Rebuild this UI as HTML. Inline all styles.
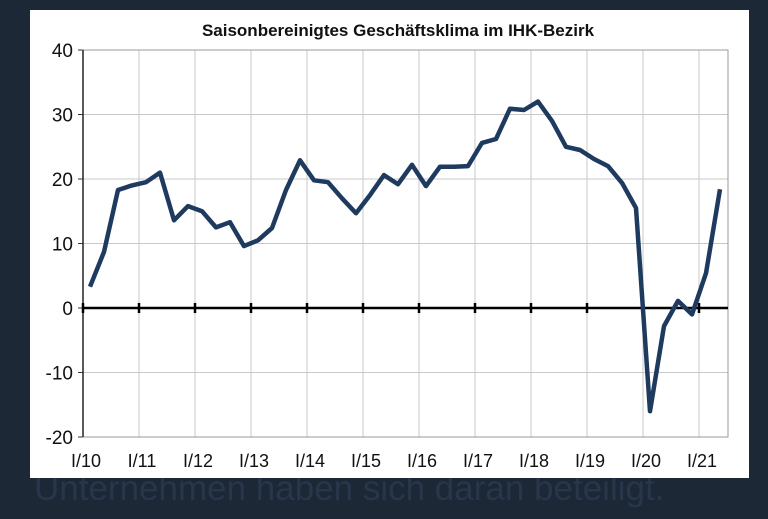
<!DOCTYPE html>
<html><head><meta charset="utf-8"><style>
html,body{margin:0;padding:0;background:#1c2836;width:768px;height:519px;overflow:hidden;font-family:"Liberation Sans",sans-serif}
#bgtext{position:absolute;left:34px;top:469px;font-size:35px;color:#27364a;white-space:nowrap}
#panel{position:absolute;left:30px;top:10px;width:719px;height:468px;background:#fff}
svg{position:absolute;left:0;top:0}
</style></head><body>
<div id="bgtext">Unternehmen haben sich daran beteiligt.</div>
<div id="panel"></div>
<svg id="chart" width="768" height="519"></svg>
<script>
const yearLabels=["I/10","I/11","I/12","I/13","I/14","I/15","I/16","I/17","I/18","I/19","I/20","I/21"];
const yTicks=[40,30,20,10,0,-10,-20];
const climateValues=[3.3,8.7,18.3,19,19.5,21,13.6,15.8,15,12.5,13.3,9.6,10.5,12.4,18.3,22.9,19.8,19.5,17,14.7,17.5,20.6,19.2,22.2,18.9,21.9,21.9,22,25.6,26.2,30.9,30.7,32,29,25,24.5,23.1,22,19.4,15.5,-16,-2.8,1.1,-1,5.4,18.4];
const NS="http://www.w3.org/2000/svg";
const svg=document.getElementById('chart');
const L=83,R=728,T=50,B=437,ymin=-20,ymax=40,yearW=56,qW=14;
const y=v=>B-(v-ymin)/(ymax-ymin)*(B-T);
const xYear=i=>L+i*yearW;
const xQ=i=>L+(i+0.5)*qW;
function mk(t,a){const e=document.createElementNS(NS,t);for(const k in a)e.setAttribute(k,a[k]);svg.appendChild(e);return e;}
const title=mk('text',{x:398,y:36,'text-anchor':'middle','font-size':'17','font-weight':'bold',fill:'#111'});
title.textContent='Saisonbereinigtes Geschäftsklima im IHK-Bezirk';


yTicks.forEach(v=>{
  const g=mk('line',{x1:L,x2:R,y1:y(v),y2:y(v),stroke:'#c8c8c8','stroke-width':1});
  
  
  const tk=mk('line',{x1:L-5,x2:L,y1:y(v),y2:y(v),stroke:'#333'});
  
  
  const t=mk('text',{x:L-10,y:y(v)+7,'text-anchor':'end','font-size':'19',fill:'#111'});
  t.textContent=v;
  
  
});
yearLabels.forEach((lab,i)=>{
  if(i>0){const g=mk('line',{x1:xYear(i),x2:xYear(i),y1:T,y2:B,stroke:'#c8c8c8','stroke-width':1});
  
  }
  const t=mk('text',{x:xYear(i)+3,y:467,'text-anchor':'middle','font-size':'18',fill:'#111'});
  t.textContent=lab;
  
  
});
const fr=mk('rect',{x:L,y:T,width:R-L,height:B-T,fill:'none',stroke:'#999'});


const ya=mk('line',{x1:L,x2:L,y1:T,y2:B,stroke:'#222','stroke-width':1.5});


const z=mk('line',{x1:L,x2:R,y1:y(0),y2:y(0),stroke:'#000','stroke-width':2.5});


yearLabels.forEach((lab,i)=>{
  const tk=mk('line',{x1:xYear(i),x2:xYear(i),y1:y(0)-5,y2:y(0)+5,stroke:'#000','stroke-width':2.5});
  
  
});
const pts=climateValues.map((v,i)=>xQ(i).toFixed(1)+','+y(v).toFixed(1)).join(' ');
const pl=mk('polyline',{points:pts,fill:'none',stroke:'#1f3a5f','stroke-width':4.5,'stroke-linejoin':'round'});


</script>
</body></html>
